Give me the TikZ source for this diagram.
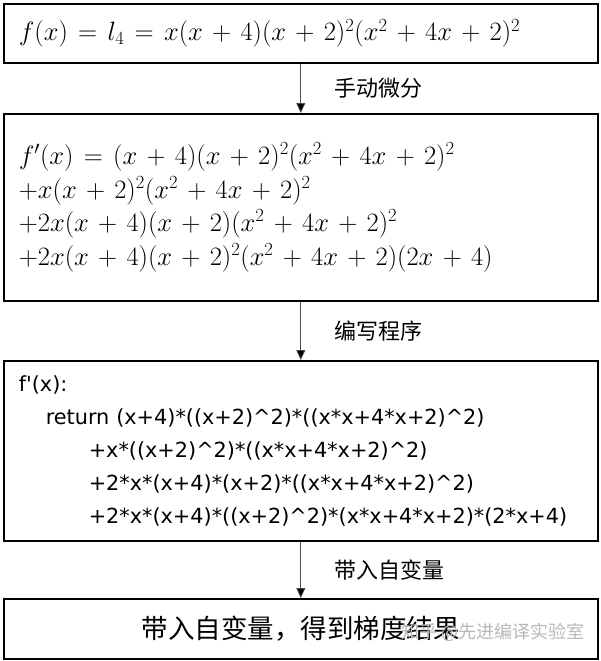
\RequirePackage{fix-cm}
\documentclass[tikz,border=0pt]{standalone}
\usepackage{fontspec}
\newfontfamily\cjk{Noto Sans CJK SC}
\newfontfamily\codefont{DejaVu Sans}
\usetikzlibrary{arrows.meta}
\newcommand\wideops{\medmuskip=6.3mu\relax\thickmuskip=7mu\relax}
\begin{document}
\begin{tikzpicture}[x=1pt,y=-1pt,
  box/.style={draw=black,line width=1.6pt,minimum width=594pt,anchor=north west,inner xsep=15pt,text width=564pt,align=left},
  mathbox/.style={box,font=\fontsize{26.5}{33.5}\selectfont\wideops},
  arr/.style={draw=black!70,line width=0.8pt,-{Triangle[width=9pt,length=10pt,fill=black]}},
  lab/.style={anchor=west,font=\cjk\fontsize{22}{24}\selectfont,xshift=30pt},
  code/.style={font=\codefont\fontsize{20.8}{33}\selectfont}]
\useasboundingbox (0,0) rectangle (600,661);
\node[mathbox,minimum height=59pt] (b1) at (3,3)
  {$f(x)=l_4=x(x+4)(x+2)^2(x^2+4x+2)^2$};
\node[mathbox,minimum height=187pt] (b2) at (3,113)
  {$f'(x)=(x+4)(x+2)^2(x^2+4x+2)^2$\\
   $+x(x+2)^2(x^2+4x+2)^2$\\
   $+2x(x+4)(x+2)(x^2+4x+2)^2$\\
   $+2x(x+4)(x+2)^2(x^2+4x+2)(2x+4)$};
\node[box,code,minimum height=180pt] (b3) at (3,360)
  {f'(x):\\
   \hspace*{27pt}return (x+4)*((x+2)\^{}2)*((x*x+4*x+2)\^{}2)\\
   \hspace*{70pt}+x*((x+2)\^{}2)*((x*x+4*x+2)\^{}2)\\
   \hspace*{70pt}+2*x*(x+4)*(x+2)*((x*x+4*x+2)\^{}2)\\
   \hspace*{70pt}+2*x*(x+4)*((x+2)\^{}2)*(x*x+4*x+2)*(2*x+4)};
\node[box,minimum height=60pt,align=center,font=\cjk\fontsize{26.5}{30}\selectfont] (b4) at (3,598)
  {带入自变量，得到梯度结果};
\node[anchor=west,text=black!28,font=\cjk\fontsize{18}{20}\selectfont] (wm) at (398,632) {知乎 @先进编译实验室};
\draw[arr] (b1.south) -- (b2.north) node[midway,lab] (l1) {手动微分};
\draw[arr] (b2.south) -- (b3.north) node[midway,lab] (l2) {编写程序};
\draw[arr] (b3.south) -- (b4.north) node[midway,lab] (l3) {带入自变量};
\end{tikzpicture}
\end{document}
